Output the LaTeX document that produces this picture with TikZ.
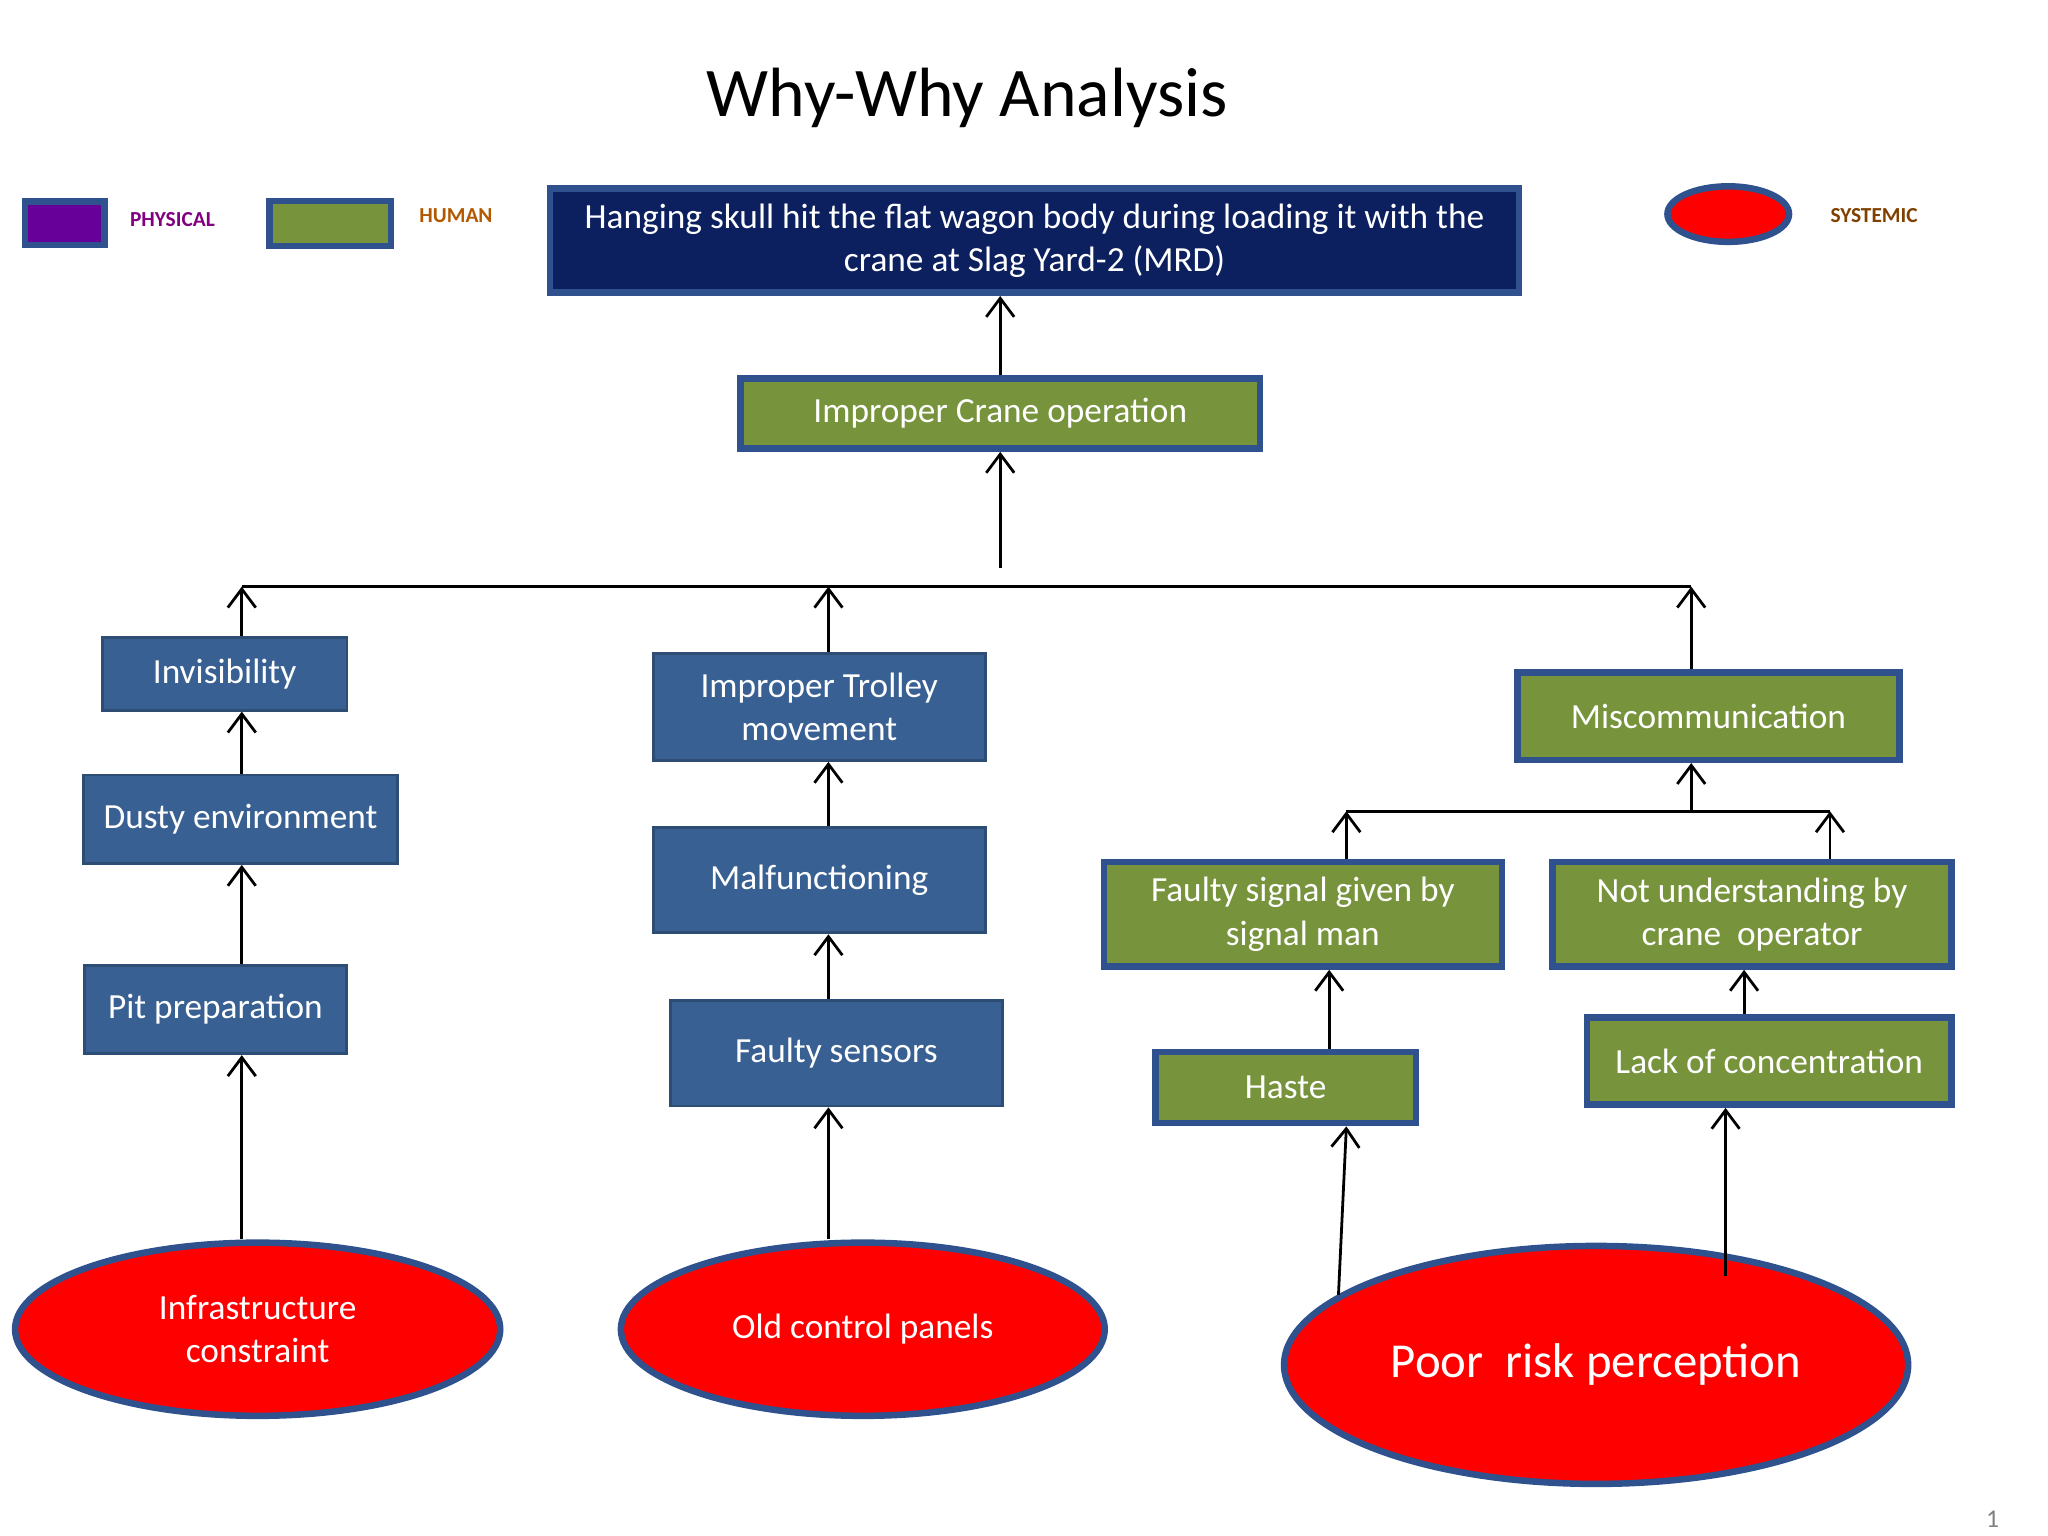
\documentclass[tikz,border=0pt]{standalone}
\usepackage{fontspec}
\setmainfont{Carlito}
\usetikzlibrary{arrows.meta,shapes,positioning,calc}
\definecolor{navybox}{RGB}{12,32,96}
\definecolor{greenbox}{RGB}{119,147,60}
\definecolor{bluebox}{RGB}{56,96,146}
\definecolor{edgeblue}{RGB}{47,82,143}
\tikzset{
  why/.style={draw=edgeblue, line width=1.4pt, text=white, align=center, font=\fontsize{7.6}{9.3}\selectfont, inner sep=2pt},
  phys/.style={why, fill=bluebox, draw=bluebox!80!black, line width=0.6pt},
  hum/.style={why, fill=greenbox},
  sys/.style={ellipse, draw=edgeblue, line width=1.4pt, fill=red, text=white, align=center, font=\fontsize{7.6}{9.3}\selectfont},
  up/.style={-{Straight Barb[length=4pt,width=6pt]}, line width=0.6pt},
  legend/.style={font=\fontsize{4.6}{5}\selectfont\bfseries}
}
\begin{document}
\begin{tikzpicture}[x=0.01cm, y=-0.01cm]
    \useasboundingbox (0,0) rectangle (1550,1162);

    % Title and legend
    \node[font=\fontsize{15}{18}\selectfont] (title) at (732,74) {Why-Why Analysis};
    \node[draw=edgeblue, line width=1.4pt, fill=violet!80!blue, minimum width=0.6cm, minimum height=0.33cm] (lphys) at (49,169) {};
    \node[legend, text=violet, anchor=west] (tphys) at (86,166) {PHYSICAL};
    \node[draw=edgeblue, line width=1.4pt, fill=greenbox, minimum width=0.92cm, minimum height=0.34cm] (lhum) at (250,169) {};
    \node[legend, text=orange!70!black, anchor=west] (thum) at (305,163) {HUMAN};
    \node[ellipse, draw=edgeblue, line width=1.4pt, fill=red, minimum width=0.92cm, minimum height=0.42cm] (lsys) at (1308,162) {};
    \node[legend, text=orange!50!black, anchor=west] (tsys) at (1373,163) {SYSTEMIC};

    % Problem and first why
    \node[why, fill=navybox, minimum width=7.33cm, minimum height=0.79cm] (top) at (783,182) {Hanging skull hit the flat wagon body during loading it with the\\crane at Slag Yard-2 (MRD)};
    \node[hum, minimum width=3.93cm, minimum height=0.53cm] (crane) at (757,313) {Improper Crane operation};

    % Left branch
    \node[phys, minimum width=1.85cm, minimum height=0.55cm] (invis) at (170,510) {Invisibility};
    \node[phys, minimum width=2.37cm, minimum height=0.67cm] (dusty) at (182,620) {Dusty environment};
    \node[phys, minimum width=1.98cm, minimum height=0.67cm] (pit) at (163,764) {Pit preparation};
    \node[sys, minimum width=3.67cm, minimum height=1.31cm] (infra) at (195,1006) {Infrastructure\\constraint};

    % Middle branch
    \node[phys, minimum width=2.51cm, minimum height=0.81cm] (trolley) at (620,535) {Improper Trolley\\movement};
    \node[phys, minimum width=2.51cm, minimum height=0.8cm] (malf) at (620,666) {Malfunctioning};
    \node[phys, minimum width=2.51cm, minimum height=0.8cm] (sensor) at (633,797) {Faulty sensors};
    \node[sys, minimum width=3.66cm, minimum height=1.31cm] (panel) at (653,1006) {Old control panels};

    % Right branch
    \node[hum, minimum width=2.89cm, minimum height=0.66cm] (miscom) at (1293,542) {Miscommunication};
    \node[hum, minimum width=3.01cm, minimum height=0.79cm] (signal) at (986,692) {Faulty signal given by\\signal man};
    \node[hum, minimum width=3.02cm, minimum height=0.79cm] (operator) at (1326,692) {Not understanding by\\crane\ \ operator};
    \node[hum, minimum width=1.97cm, minimum height=0.54cm] (haste) at (973,823) {Haste};
    \node[hum, minimum width=2.76cm, minimum height=0.66cm] (lack) at (1339,803) {Lack of concentration};
    \node[sys, minimum width=4.59cm, minimum height=1.8cm, font=\fontsize{10.5}{13}\selectfont] (risk) at (1208,1033) {Poor\ \ risk perception};

    \node[text=gray, font=\fontsize{5.5}{6}\selectfont] (page) at (1508,1150) {1};

    % Junctions
    \coordinate (hub) at (757,430);
    \coordinate (jl) at (183,444);
    \coordinate (jm) at (627,444);
    \coordinate (jr) at (1280,444);
    \coordinate (kl) at (1019,614);
    \coordinate (kr) at (1385,614);
    \coordinate (km) at (1280,614);

    \draw[up] (crane.north) -- (crane.north |- top.south);
    \draw[up] (hub) -- (crane.south);
    \draw[line width=0.6pt] (jl) -- (jr);
    \draw[up] (invis.north -| jl) -- (jl);
    \draw[up] (trolley.north -| jm) -- (jm);
    \draw[up] (miscom.north -| jr) -- (jr);
    \draw[up] (dusty.north -| jl) -- (invis.south -| jl);
    \draw[up] (pit.north -| jl) -- (dusty.south -| jl);
    \draw[up] (infra.north -| jl) -- (pit.south -| jl);
    \draw[up] (malf.north -| jm) -- (trolley.south -| jm);
    \draw[up] (sensor.north -| jm) -- (malf.south -| jm);
    \draw[up] (panel.north -| jm) -- (sensor.south -| jm);
    \draw[line width=0.6pt] (kl) -- (kr);
    \draw[up] (km) -- (miscom.south -| km);
    \draw[up] (signal.north -| kl) -- (kl);
    \draw[up] (operator.north -| kr) -- (kr);
    \draw[up] ($(haste.north)+(33,0)$) -- ($(signal.south)+(20,0)$);
    \draw[up] ($(lack.north)+(-19,0)$) -- ($(operator.south)+(-6,0)$);
    \draw[up] (1013,980) -- ($(haste.south)+(46,0)$);
    \draw[up] (1306,966) -- ($(lack.south)+(-33,0)$);
\end{tikzpicture}
\end{document}
